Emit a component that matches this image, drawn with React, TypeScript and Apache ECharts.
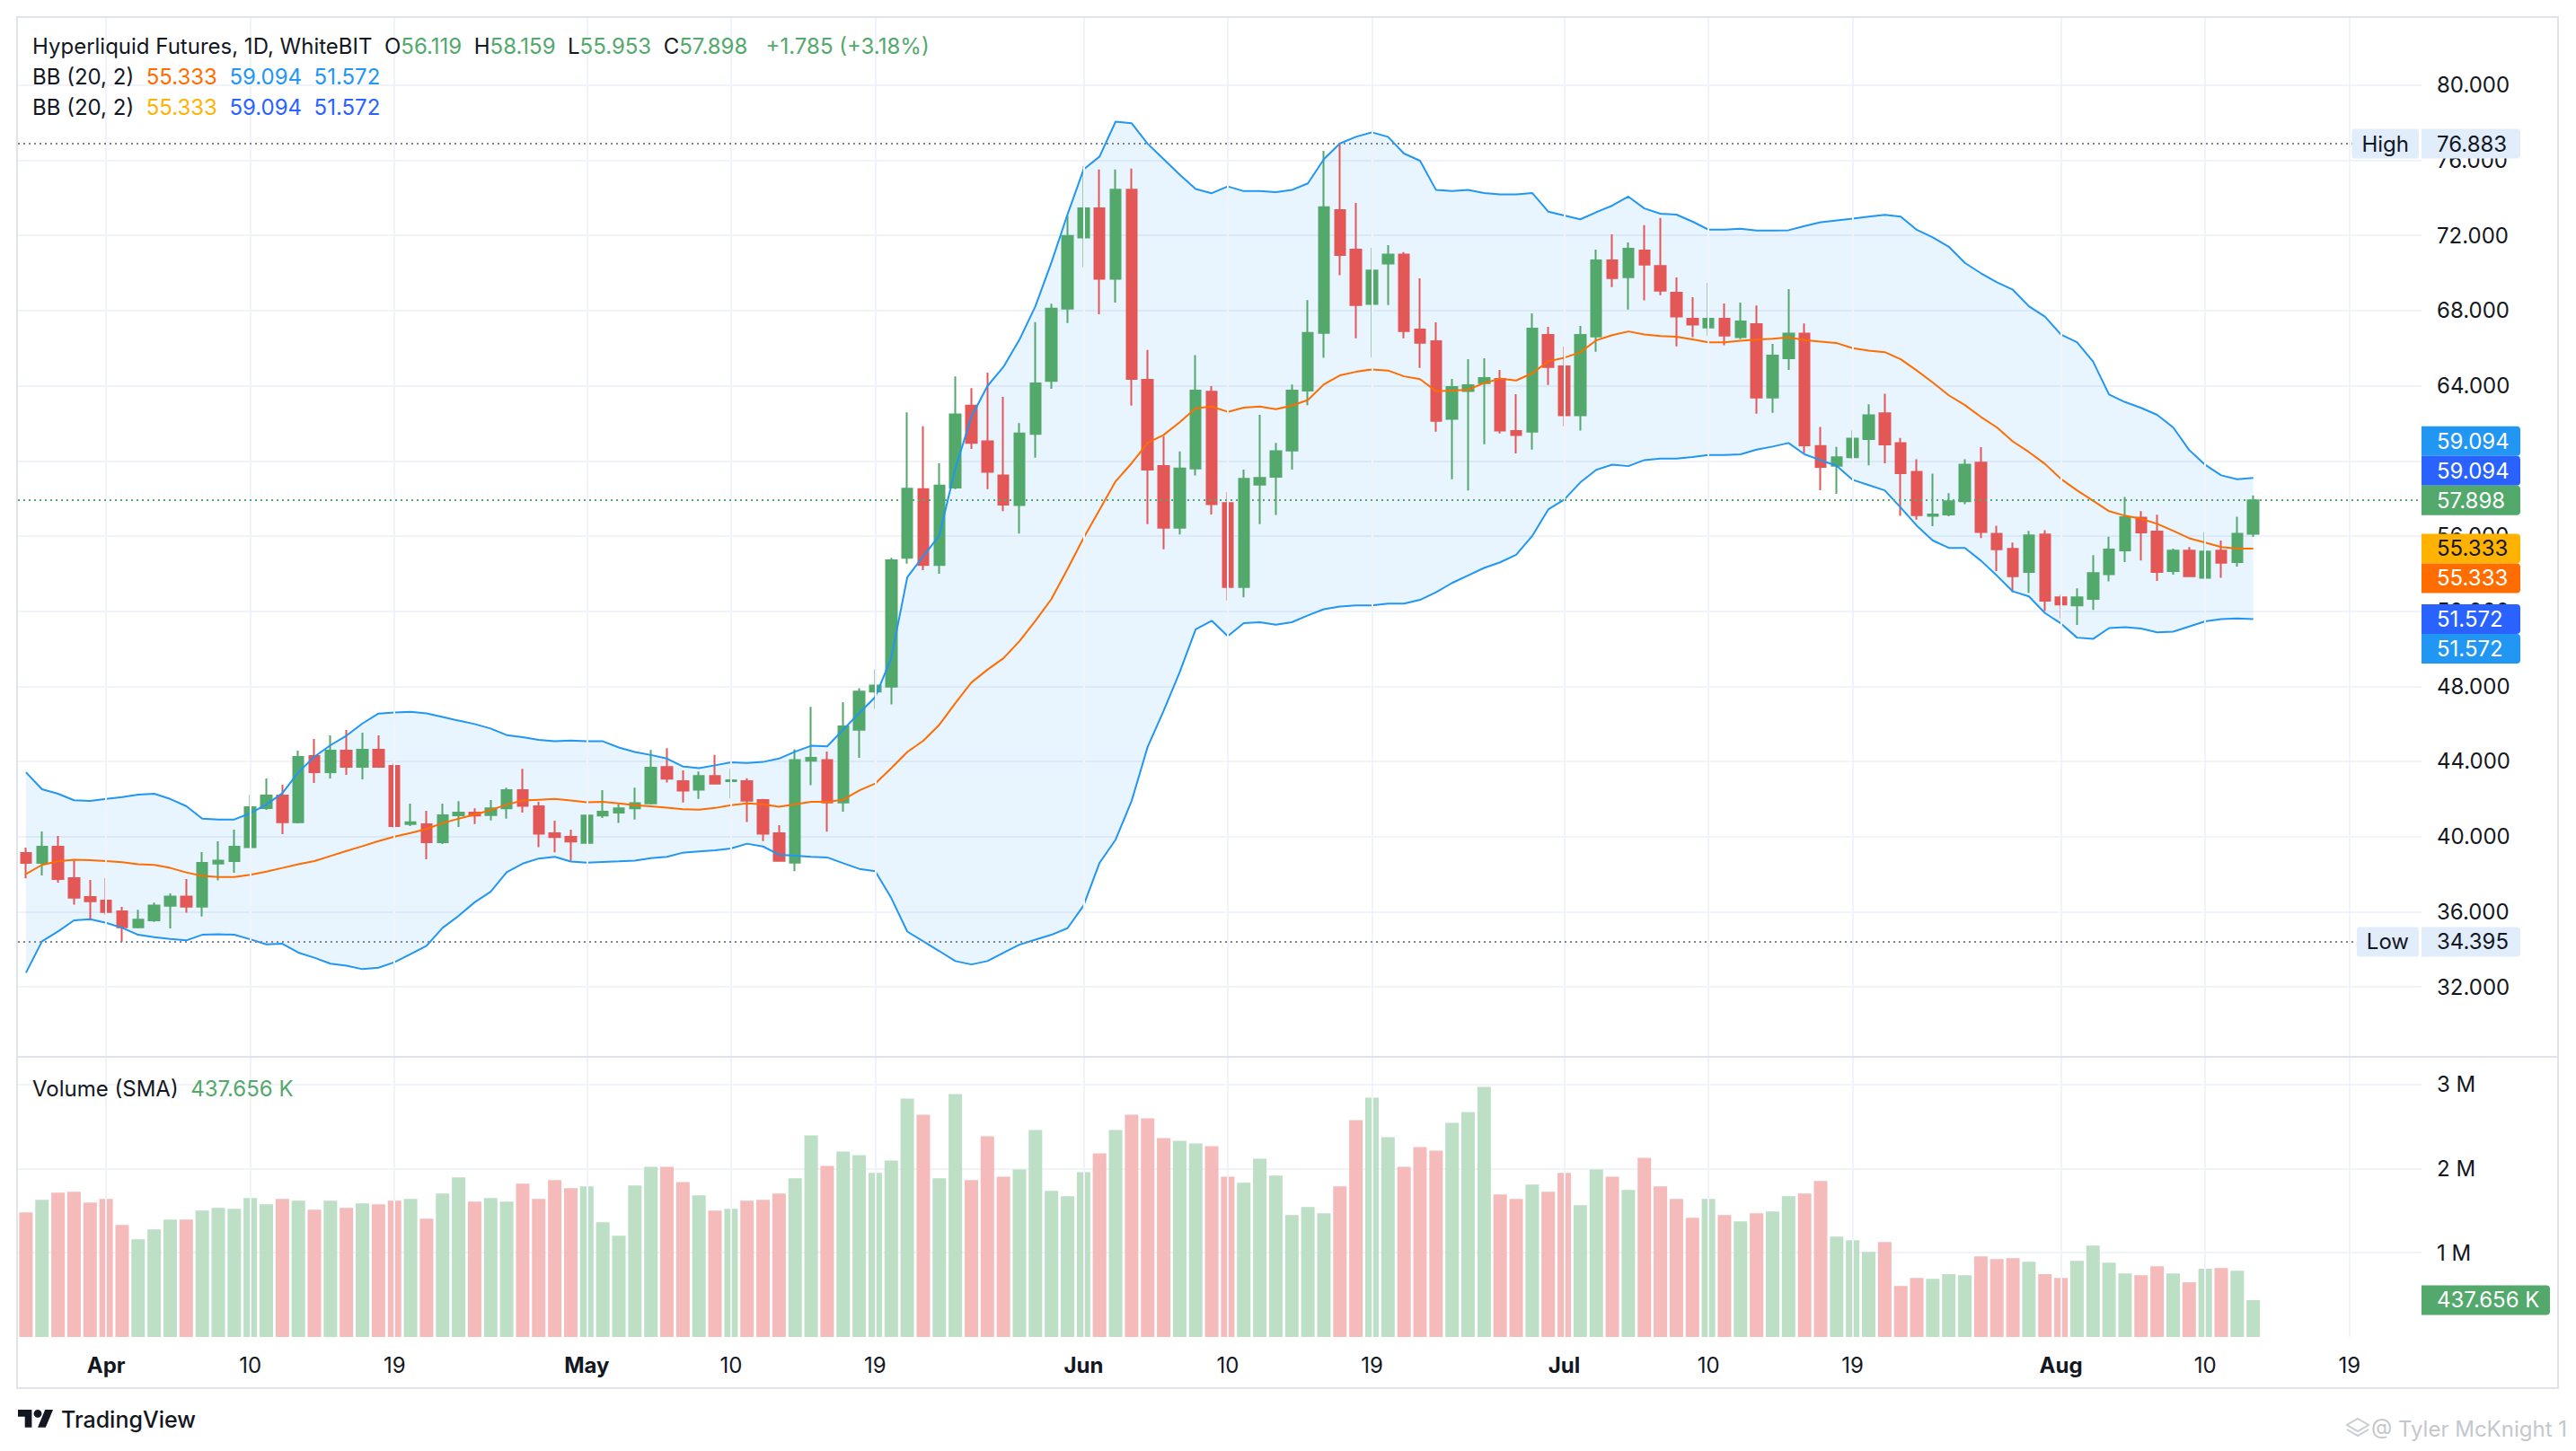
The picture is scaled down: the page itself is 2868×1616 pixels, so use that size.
import React, { useEffect, useRef } from "react";
import * as echarts from "echarts";

const FONT = "Inter, 'Noto Sans', 'DejaVu Sans', sans-serif";
const INK = "#131722";
const GRID_LINE = "#f0f3fa";
const BORDER = "#e0e3eb";
const UP = "#53a86b";
const DOWN = "#e35757";
const UP_VOL = "#bcdfc6";
const DOWN_VOL = "#f5bbbb";
const BB_BAND = "#2196f3";
const BB_BASIS = "#ff6d00";
const BB2_BAND = "#2962ff";
const BB2_BASIS = "#ffb300";
const BADGE_LIGHT = "#e1edfa";

// ---- categories (daily slots, incl. empty right margin) ----
const FIRST_DAY = Date.UTC(2025, 2, 27);
const SLOT_COUNT = 150;
const dayNames: string[] = Array.from({ length: SLOT_COUNT }, (_, i) =>
  new Date(FIRST_DAY + i * 86400000).toISOString().slice(0, 10)
);
const timeTicks = [
  "2025-04-01", "2025-04-10", "2025-04-19",
  "2025-05-01", "2025-05-10", "2025-05-19",
  "2025-06-01", "2025-06-10", "2025-06-19",
  "2025-07-01", "2025-07-10", "2025-07-19",
  "2025-08-01", "2025-08-10", "2025-08-19",
];
const monthNames: Record<string, string> = { "04": "Apr", "05": "May", "06": "Jun", "07": "Jul", "08": "Aug" };

// ---- OHLC ----
const opens = [
  39.12, 38.60, 39.46, 37.78, 36.78, 36.59, 36.02, 35.17, 35.54, 36.32,
  36.81, 36.27, 38.56, 38.69, 39.43, 41.51, 42.18, 40.76, 44.29, 43.42,
  44.57, 43.71, 44.62, 43.76, 40.67, 40.65, 39.70, 41.13, 41.27, 41.14,
  41.50, 42.47, 41.61, 40.17, 39.98, 39.66, 41.12, 41.27, 41.50, 41.76,
  43.70, 42.95, 42.49, 43.22, 42.95, 42.95, 41.94, 40.17, 38.61, 44.04,
  44.07, 41.81, 45.69, 47.72, 47.98, 54.84, 58.50, 54.46, 58.58, 62.94,
  61.04, 59.23, 57.65, 61.43, 64.25, 68.10, 71.89, 73.45, 69.69, 74.44,
  64.31, 59.73, 56.44, 59.59, 63.68, 57.75, 53.28, 58.74, 59.15, 60.55,
  63.74, 66.81, 73.35, 71.25, 68.35, 70.51, 70.98, 66.99, 66.37, 62.23,
  63.72, 64.14, 64.36, 61.59, 61.56, 66.70, 65.03, 62.43, 66.62, 70.67,
  69.78, 71.20, 70.38, 68.95, 67.56, 67.10, 67.56, 66.58, 67.28, 63.37,
  65.46, 66.78, 60.79, 59.74, 60.19, 61.16, 62.53, 60.95, 59.42, 57.07,
  57.15, 57.85, 59.90, 56.12, 55.32, 54.08, 56.08, 52.73, 52.30, 52.65,
  53.97, 55.23, 56.98, 56.24, 54.13, 55.22, 53.77, 55.22, 54.61, 56.119,
];
const highs = [
  39.41, 40.27, 40.03, 38.77, 37.69, 37.78, 36.25, 36.10, 36.48, 36.97,
  37.74, 39.17, 39.74, 40.37, 42.23, 43.09, 42.76, 44.57, 45.19, 45.38,
  45.67, 45.53, 45.38, 43.90, 41.75, 41.37, 41.75, 41.89, 41.50, 41.94,
  42.60, 43.61, 41.85, 40.84, 40.37, 41.15, 42.47, 41.72, 42.60, 44.61,
  44.70, 43.52, 43.46, 44.34, 43.61, 43.10, 42.00, 40.61, 44.65, 46.90,
  44.52, 47.16, 47.90, 48.91, 54.84, 62.58, 61.84, 59.87, 64.50, 63.87,
  64.70, 63.41, 62.01, 67.39, 68.37, 73.05, 75.70, 75.51, 75.51, 75.56,
  65.90, 61.32, 60.50, 65.63, 63.98, 58.33, 59.53, 62.45, 60.96, 64.07,
  68.56, 76.50, 76.883, 73.73, 71.34, 71.48, 71.12, 69.72, 67.37, 64.36,
  65.41, 65.46, 64.84, 63.55, 67.85, 67.13, 66.08, 67.18, 71.25, 72.06,
  71.63, 72.55, 72.93, 69.76, 68.71, 69.48, 68.38, 68.43, 68.27, 66.23,
  69.14, 67.31, 61.81, 60.74, 61.62, 63.01, 63.58, 61.22, 60.09, 59.32,
  58.28, 60.09, 60.73, 56.55, 55.65, 56.27, 56.31, 52.89, 53.21, 54.98,
  55.96, 58.08, 57.32, 57.13, 55.33, 55.41, 56.20, 55.76, 57.03, 58.159,
];
const lows = [
  37.77, 37.93, 37.55, 36.37, 35.62, 35.84, 34.395, 35.11, 35.46, 35.11,
  35.94, 35.74, 37.66, 38.07, 39.43, 41.42, 40.13, 40.70, 42.85, 43.09,
  43.28, 43.04, 43.65, 40.46, 40.56, 38.79, 39.60, 40.51, 40.66, 40.86,
  40.95, 41.27, 39.44, 39.16, 38.70, 39.60, 40.99, 40.72, 40.90, 41.70,
  42.88, 41.81, 42.00, 42.77, 42.04, 40.77, 39.76, 38.67, 38.16, 42.73,
  40.26, 41.32, 44.19, 46.79, 47.03, 54.53, 54.18, 53.99, 58.50, 60.63,
  58.50, 57.32, 56.13, 60.17, 63.84, 67.34, 70.30, 67.80, 68.43, 62.94,
  56.63, 55.29, 56.08, 59.23, 57.15, 52.57, 52.73, 56.63, 57.12, 59.53,
  62.97, 65.49, 69.88, 66.53, 65.52, 68.30, 66.53, 64.95, 61.56, 59.02,
  58.42, 60.89, 61.46, 60.40, 60.60, 64.04, 61.84, 61.61, 65.81, 69.25,
  68.06, 68.54, 68.82, 66.10, 66.58, 66.67, 66.15, 66.48, 62.51, 62.56,
  64.84, 60.41, 58.43, 58.24, 60.10, 59.76, 59.87, 57.07, 56.87, 56.52,
  57.05, 57.70, 55.89, 54.13, 53.01, 52.98, 52.01, 51.61, 51.26, 52.06,
  53.58, 54.61, 54.69, 53.61, 53.94, 53.81, 53.77, 53.77, 54.37, 55.953,
];
const closes = [
  38.60, 39.46, 37.74, 36.75, 36.56, 35.98, 35.17, 35.57, 36.33, 36.81,
  36.27, 38.60, 38.72, 39.46, 41.56, 42.18, 40.76, 44.24, 43.42, 44.57,
  43.71, 44.62, 43.71, 40.56, 40.76, 39.70, 41.13, 41.27, 41.12, 41.50,
  42.47, 41.63, 40.15, 39.97, 39.73, 41.12, 41.32, 41.50, 41.78, 43.66,
  43.08, 42.44, 43.22, 42.82, 42.99, 41.91, 40.15, 38.70, 44.07, 44.19,
  41.81, 45.86, 47.72, 48.04, 54.71, 58.52, 54.46, 58.69, 62.47, 60.96,
  59.42, 57.67, 61.46, 64.12, 68.10, 71.98, 73.45, 69.69, 74.44, 64.36,
  59.53, 56.44, 59.59, 63.74, 57.70, 53.28, 59.04, 59.09, 60.52, 63.74,
  66.81, 73.51, 70.96, 68.30, 70.13, 70.98, 66.91, 66.29, 62.13, 63.93,
  64.03, 64.41, 61.61, 61.37, 67.04, 65.00, 62.43, 66.70, 70.67, 69.73,
  71.29, 70.45, 69.06, 67.68, 67.25, 67.56, 66.67, 67.42, 63.37, 65.60,
  66.78, 60.82, 59.68, 60.19, 61.19, 62.43, 60.87, 59.34, 57.11, 57.15,
  57.85, 59.80, 56.21, 55.29, 53.86, 56.03, 52.55, 52.35, 52.73, 54.02,
  55.28, 57.00, 56.19, 54.08, 55.22, 53.86, 55.17, 54.58, 56.113, 57.898,
];

// ---- Volume (millions) ----
const volumesM = [
  1.479, 1.628, 1.713, 1.723, 1.596, 1.638, 1.330, 1.160, 1.277, 1.394,
  1.394, 1.500, 1.532, 1.521, 1.649, 1.574, 1.638, 1.617, 1.511, 1.617,
  1.532, 1.585, 1.574, 1.617, 1.638, 1.404, 1.702, 1.894, 1.606, 1.649,
  1.606, 1.819, 1.638, 1.862, 1.766, 1.787, 1.362, 1.202, 1.798, 2.021,
  2.021, 1.840, 1.681, 1.500, 1.521, 1.617, 1.628, 1.702, 1.883, 2.394,
  2.032, 2.202, 2.160, 1.947, 2.096, 2.830, 2.638, 1.883, 2.883, 1.862,
  2.383, 1.904, 1.989, 2.457, 1.734, 1.670, 1.957, 2.181, 2.457, 2.638,
  2.596, 2.362, 2.330, 2.298, 2.266, 1.904, 1.830, 2.117, 1.915, 1.447,
  1.543, 1.468, 1.787, 2.574, 2.840, 2.372, 2.021, 2.255, 2.213, 2.543,
  2.670, 2.968, 1.691, 1.638, 1.809, 1.723, 1.947, 1.564, 1.989, 1.904,
  1.745, 2.128, 1.787, 1.638, 1.415, 1.638, 1.447, 1.372, 1.468, 1.489,
  1.670, 1.702, 1.851, 1.191, 1.149, 1.011, 1.128, 0.606, 0.702, 0.691,
  0.745, 0.734, 0.957, 0.926, 0.936, 0.894, 0.745, 0.702, 0.904, 1.085,
  0.883, 0.755, 0.734, 0.840, 0.755, 0.649, 0.809, 0.819, 0.787, 0.437656,
];

// ---- Bollinger Bands (20, 2) ----
const bbUpper = [
  43.42, 42.52, 42.28, 41.93, 41.90, 42.00, 42.10, 42.23, 42.28, 42.00,
  41.62, 40.95, 40.91, 40.91, 41.24, 41.70, 42.31, 43.42, 44.25, 44.86,
  45.37, 46.02, 46.55, 46.60, 46.64, 46.56, 46.37, 46.17, 45.99, 45.75,
  45.40, 45.29, 45.15, 45.07, 45.11, 45.07, 45.07, 44.74, 44.50, 44.34,
  44.15, 43.73, 43.64, 43.79, 43.95, 43.92, 43.97, 44.15, 44.52, 44.83,
  44.80, 45.69, 46.57, 47.43, 49.50, 53.80, 54.93, 56.03, 59.59, 62.34,
  63.98, 65.00, 66.45, 68.24, 70.57, 73.12, 75.51, 76.20, 78.06, 77.98,
  76.88, 76.06, 75.24, 74.47, 74.25, 74.61, 74.36, 74.36, 74.31, 74.42,
  74.77, 76.06, 76.90, 77.25, 77.49, 77.25, 76.36, 75.98, 74.42, 74.37,
  74.43, 74.26, 74.19, 74.19, 74.26, 73.27, 73.06, 72.86, 73.24, 73.59,
  74.07, 73.44, 73.16, 73.11, 72.74, 72.31, 72.31, 72.36, 72.26, 72.26,
  72.28, 72.50, 72.70, 72.80, 72.90, 73.00, 73.10, 73.00, 72.30, 71.90,
  71.40, 70.54, 69.99, 69.51, 69.11, 68.23, 67.68, 66.72, 66.32, 65.29,
  63.53, 63.13, 62.82, 62.45, 61.78, 60.58, 59.79, 59.23, 59.02, 59.094,
];
const bbMid = [
  38.01, 38.49, 38.68, 38.76, 38.74, 38.69, 38.63, 38.53, 38.49, 38.33,
  38.09, 37.90, 37.85, 37.85, 37.96, 38.13, 38.33, 38.53, 38.69, 38.96,
  39.23, 39.49, 39.76, 40.00, 40.19, 40.40, 40.72, 40.95, 41.17, 41.41,
  41.70, 41.92, 41.96, 42.00, 41.92, 41.83, 41.85, 41.76, 41.67, 41.61,
  41.54, 41.45, 41.43, 41.52, 41.67, 41.76, 41.72, 41.58, 41.72, 41.85,
  41.85, 41.96, 42.45, 42.82, 43.64, 44.50, 45.10, 45.95, 47.10, 48.20,
  48.88, 49.49, 50.40, 51.49, 52.65, 54.24, 55.89, 57.40, 58.91, 59.87,
  60.96, 61.38, 62.06, 62.80, 62.89, 62.61, 62.83, 62.89, 62.75, 62.94,
  63.24, 64.07, 64.55, 64.74, 64.87, 64.81, 64.50, 64.35, 63.71, 63.74,
  63.79, 64.14, 64.38, 64.28, 64.66, 65.30, 65.49, 65.78, 66.42, 66.69,
  66.89, 66.73, 66.64, 66.61, 66.47, 66.31, 66.31, 66.39, 66.45, 66.50,
  66.57, 66.43, 66.35, 66.27, 66.00, 65.87, 65.79, 65.41, 64.81, 64.17,
  63.49, 62.97, 62.34, 61.78, 61.03, 60.47, 59.84, 59.04, 58.43, 57.88,
  57.32, 57.08, 56.92, 56.65, 56.28, 55.88, 55.65, 55.41, 55.33, 55.333,
];
const bbLower = [
  32.75, 34.42, 34.95, 35.54, 35.60, 35.41, 35.14, 34.77, 34.64, 34.55,
  34.47, 34.77, 34.80, 34.77, 34.53, 34.26, 34.29, 33.82, 33.55, 33.23,
  33.12, 32.94, 33.02, 33.31, 33.74, 34.18, 35.14, 35.78, 36.50, 37.06,
  38.10, 38.56, 38.83, 38.92, 38.67, 38.61, 38.65, 38.68, 38.72, 38.85,
  38.92, 39.14, 39.21, 39.27, 39.36, 39.62, 39.47, 39.03, 38.98, 38.92,
  38.89, 38.58, 38.28, 38.16, 36.73, 34.94, 34.42, 33.90, 33.37, 33.19,
  33.37, 33.81, 34.24, 34.51, 34.77, 35.12, 36.32, 38.60, 39.83, 41.89,
  44.77, 46.69, 48.75, 51.03, 51.49, 50.67, 51.36, 51.41, 51.28, 51.41,
  51.77, 52.10, 52.24, 52.30, 52.30, 52.40, 52.40, 52.60, 53.00, 53.50,
  53.90, 54.30, 54.60, 55.00, 56.00, 57.41, 57.94, 58.85, 59.52, 59.80,
  59.72, 60.04, 60.12, 60.12, 60.20, 60.31, 60.31, 60.35, 60.60, 60.76,
  60.95, 60.35, 60.03, 59.74, 58.99, 58.71, 58.43, 57.51, 56.55, 55.76,
  55.37, 55.36, 54.69, 53.89, 53.05, 52.78, 51.90, 51.34, 50.59, 50.52,
  51.10, 51.14, 51.07, 50.87, 50.91, 51.18, 51.46, 51.58, 51.61, 51.572,
];

// ---- layout ----
const PLOT_LEFT = 20;
const PLOT_W = 2676;
const PRICE_MIN = 28;
const PRICE_MAX = 84;
const PRICE_STEP = 4;
const PRICE_TOP = 11.2;
const PRICE_H = 1171.5;
const PANE_TOP_PRICE = 83.58;
const PANE_BOTTOM_PRICE = 28.32;
const VOL_TOP = 1177;
const VOL_H = 312;
const VOL_MAX = 3.326;
const AXIS_X = 2696;
const BH = 33;
const LABEL_HALF = 11;

const f3 = (v: number) => v.toFixed(3);

function buildOption(hiddenTicks: Set<number>): any {
  const candleData = opens.map((o, i) => [o, closes[i], lows[i], highs[i]]);
  const volData = volumesM.map((v, i) => ({
    value: v,
    itemStyle: { color: closes[i] >= opens[i] ? UP_VOL : DOWN_VOL },
  }));
  const bandWidth = bbUpper.map((u, i) => +(u - bbLower[i]).toFixed(3));
  const tickIdx = timeTicks.map((d) => dayNames.indexOf(d));
  const tickSet = new Set(timeTicks);
  const last = closes.length - 1;

  const gridLine = { color: GRID_LINE, width: 2, type: "solid" };
  const dotted = (color: string) => ({ color, width: 2, type: [2, 4] });

  return {
    animation: false,
    backgroundColor: "#ffffff",
    textStyle: { fontFamily: FONT },
    grid: [
      { left: PLOT_LEFT, top: PRICE_TOP, width: PLOT_W, height: PRICE_H, outerBoundsMode: "none" },
      { left: PLOT_LEFT, top: VOL_TOP, width: PLOT_W, height: VOL_H, outerBoundsMode: "none" },
    ],
    xAxis: [
      {
        type: "category", gridIndex: 0, data: dayNames, boundaryGap: true,
        axisLine: { show: false }, axisTick: { show: false }, axisLabel: { show: false },
        splitLine: { show: false },
      },
      {
        type: "category", gridIndex: 1, data: dayNames, boundaryGap: true,
        axisLine: { show: false }, axisTick: { show: false }, splitLine: { show: false },
        axisLabel: {
          interval: (_i: number, v: string) => tickSet.has(v),
          hideOverlap: false,
          margin: 19,
          fontSize: 24,
          fontFamily: FONT,
          color: INK,
          formatter: (v: string) => {
            const day = Number(v.slice(8, 10));
            return day === 1 ? `{m|${monthNames[v.slice(5, 7)]}}` : String(day);
          },
          rich: { m: { fontWeight: "bold", fontSize: 24, fontFamily: FONT, color: INK } },
        },
      },
    ],
    yAxis: [
      {
        type: "value", gridIndex: 0, position: "right",
        min: PRICE_MIN, max: PRICE_MAX, interval: PRICE_STEP,
        axisLine: { show: false }, axisTick: { show: false },
        axisLabel: {
          showMinLabel: false, showMaxLabel: false, margin: 17,
          fontSize: 24, fontFamily: FONT, color: INK,
          formatter: (v: number) => (hiddenTicks.has(Math.round(v)) ? "" : f3(v)),
        },
        splitLine: { show: true, showMinLine: false, showMaxLine: false, lineStyle: gridLine },
      },
      {
        type: "value", gridIndex: 1, position: "right",
        min: 0, max: VOL_MAX, interval: 1,
        axisLine: { show: false }, axisTick: { show: false },
        axisLabel: {
          showMinLabel: false, showMaxLabel: false, margin: 17,
          fontSize: 24, fontFamily: FONT, color: INK,
          formatter: (v: number) => `${v} M`,
        },
        splitLine: { show: true, showMinLine: false, showMaxLine: false, lineStyle: gridLine },
      },
    ],
    series: [
      {
        name: "timeGridPrice", type: "line", xAxisIndex: 0, yAxisIndex: 0, z: 1,
        data: closes, showSymbol: false, silent: true, lineStyle: { opacity: 0 },
        markLine: {
          silent: true, symbol: ["none", "none"], label: { show: false }, animation: false,
          lineStyle: gridLine,
          data: tickIdx.map((x) => [{ coord: [x, PANE_TOP_PRICE] }, { coord: [x, PANE_BOTTOM_PRICE] }]),
        },
      },
      {
        name: "bbBase", type: "line", xAxisIndex: 0, yAxisIndex: 0, stack: "bb", z: 2,
        data: bbLower, showSymbol: false, silent: true, lineStyle: { opacity: 0 },
      },
      {
        name: "bbFill", type: "line", xAxisIndex: 0, yAxisIndex: 0, stack: "bb", z: 2,
        data: bandWidth, showSymbol: false, silent: true, lineStyle: { opacity: 0 },
        areaStyle: { color: "rgba(33,150,243,0.1)", opacity: 1 },
      },
      {
        name: "price", type: "candlestick", xAxisIndex: 0, yAxisIndex: 0, z: 3,
        data: candleData, barWidth: 12, silent: true,
        itemStyle: { color: UP, color0: DOWN, borderColor: UP, borderColor0: DOWN, borderWidth: 2 },
        markLine: {
          silent: true, symbol: ["none", "none"], label: { show: false }, animation: false,
          data: [
            { yAxis: Math.max(...highs), lineStyle: dotted("#80848e") },
            { yAxis: Math.min(...lows), lineStyle: dotted("#80848e") },
            { yAxis: closes[last], lineStyle: dotted(UP) },
          ],
        },
      },
      {
        name: "bbBasis", type: "line", xAxisIndex: 0, yAxisIndex: 0, z: 4,
        data: bbMid, showSymbol: false, silent: true, lineStyle: { color: BB_BASIS, width: 2 },
      },
      {
        name: "bbUpper", type: "line", xAxisIndex: 0, yAxisIndex: 0, z: 4,
        data: bbUpper, showSymbol: false, silent: true, lineStyle: { color: BB_BAND, width: 2 },
      },
      {
        name: "bbLower", type: "line", xAxisIndex: 0, yAxisIndex: 0, z: 4,
        data: bbLower, showSymbol: false, silent: true, lineStyle: { color: BB_BAND, width: 2 },
      },
      {
        name: "timeGridVol", type: "line", xAxisIndex: 1, yAxisIndex: 1, z: 1,
        data: volumesM, showSymbol: false, silent: true, lineStyle: { opacity: 0 },
        markLine: {
          silent: true, symbol: ["none", "none"], label: { show: false }, animation: false,
          lineStyle: gridLine,
          data: tickIdx.map((x) => ({ xAxis: x })),
        },
      },
      {
        name: "volume", type: "bar", xAxisIndex: 1, yAxisIndex: 1, z: 2,
        data: volData, barWidth: 15, silent: true,
      },
    ],
  };
}

const TV_LOGO_PATH = "M14 22H7V11H0V4h14v18zM28 22h-8l7.5-18h8L28 22z";
echarts.graphic.registerShape("tvlogo", echarts.graphic.extendPath(TV_LOGO_PATH, {}) as any);

type Badge = { yc: number; text: string; bg: string; fg: string; w: number };

function layoutBadges(chart: any): Badge[] {
  const y0 = (v: number) => chart.convertToPixel({ yAxisIndex: 0 }, v) as number;
  const last = closes.length - 1;
  const c = closes[last];
  const up = bbUpper[last], mid = bbMid[last], lo = bbLower[last];
  const yClose = y0(c);
  const upDark = Math.min(y0(up), yClose - BH);
  const upLight = upDark - BH;
  const midYellow = Math.max(y0(mid), yClose + BH);
  const midOrange = midYellow + BH;
  const loDark = Math.max(y0(lo), midOrange + BH);
  const loLight = loDark + BH;
  return [
    { yc: upLight, text: f3(up), bg: BB_BAND, fg: "#ffffff", w: 110 },
    { yc: upDark, text: f3(up), bg: BB2_BAND, fg: "#ffffff", w: 110 },
    { yc: yClose, text: f3(c), bg: UP, fg: "#ffffff", w: 110 },
    { yc: midYellow, text: f3(mid), bg: BB2_BASIS, fg: INK, w: 110 },
    { yc: midOrange, text: f3(mid), bg: BB_BASIS, fg: "#ffffff", w: 110 },
    { yc: loDark, text: f3(lo), bg: BB2_BAND, fg: "#ffffff", w: 110 },
    { yc: loLight, text: f3(lo), bg: BB_BAND, fg: "#ffffff", w: 110 },
  ];
}

function fullyCoveredTicks(chart: any, badges: Badge[]): Set<number> {
  const y0 = (v: number) => chart.convertToPixel({ yAxisIndex: 0 }, v) as number;
  const spans = badges.map((b) => [b.yc - BH / 2, b.yc + BH / 2]).sort((a, b) => a[0] - b[0]);
  const merged: number[][] = [];
  spans.forEach((s) => {
    const m = merged[merged.length - 1];
    if (m && s[0] <= m[1] + 0.5) m[1] = Math.max(m[1], s[1]);
    else merged.push([s[0], s[1]]);
  });
  const hidden = new Set<number>();
  for (let v = PRICE_MIN; v <= PRICE_MAX; v += PRICE_STEP) {
    const y = y0(v);
    if (merged.some((m) => y - LABEL_HALF >= m[0] && y + LABEL_HALF <= m[1])) hidden.add(v);
  }
  return hidden;
}

function buildGraphics(chart: any, badges: Badge[]): any[] {
  const y0 = (v: number) => chart.convertToPixel({ yAxisIndex: 0 }, v) as number;
  const y1 = (v: number) => chart.convertToPixel({ yAxisIndex: 1 }, v) as number;
  const last = closes.length - 1;
  const o = opens[last], h = highs[last], l = lows[last], c = closes[last];
  const chg = c - closes[last - 1];
  const pct = (chg / closes[last - 1]) * 100;
  const up = bbUpper[last], mid = bbMid[last], lo = bbLower[last];

  const txt = (x: number, y: number, text: string, extra: any = {}) => ({
    type: "text", x, y, z: 60,
    style: { text, fill: INK, fontSize: 24, fontFamily: FONT, align: "left", verticalAlign: "middle", ...extra },
  });
  const badge = (yc: number, text: string, bg: string, fg: string, w = 110) => [
    { type: "rect", z: 55, shape: { x: AXIS_X, y: yc - BH / 2, width: w, height: BH, r: [0, 4, 4, 0] }, style: { fill: bg } },
    txt(AXIS_X + 17, yc, text, { fill: fg }),
  ];
  const tagLeft = (yc: number, text: string) => ({
    type: "text", x: AXIS_X - 3, y: yc, z: 56,
    style: {
      text, fill: INK, fontSize: 24, fontFamily: FONT, align: "right", verticalAlign: "middle",
      backgroundColor: BADGE_LIGHT, padding: [4, 11, 4, 11], lineHeight: 25, borderRadius: 3,
    },
  });

  const hi = Math.max(...highs), lw = Math.min(...lows);
  const yHi = y0(hi), yLo = y0(lw);
  const vLast = volumesM[last];

  const G = UP;
  const rich = {
    t: { fill: INK, fontSize: 24, fontFamily: FONT },
    g: { fill: G, fontSize: 24, fontFamily: FONT },
    o1: { fill: BB_BASIS, fontSize: 24, fontFamily: FONT },
    b1: { fill: BB_BAND, fontSize: 24, fontFamily: FONT },
    o2: { fill: BB2_BASIS, fontSize: 24, fontFamily: FONT },
    b2: { fill: BB2_BAND, fontSize: 24, fontFamily: FONT },
  };
  const sign = chg >= 0 ? "+" : "";

  return [
    // frame
    { type: "rect", z: 40, shape: { x: 19, y: 19, width: 2829, height: 1527 }, style: { fill: "none", stroke: BORDER, lineWidth: 2 } },
    { type: "line", z: 40, shape: { x1: 19, y1: VOL_TOP, x2: 2848, y2: VOL_TOP }, style: { stroke: BORDER, lineWidth: 2 } },
    // legends
    txt(36, 51, `{t|Hyperliquid Futures, 1D, WhiteBIT }{t| O}{g|${f3(o)}}{t|  H}{g|${f3(h)}}{t|  L}{g|${f3(l)}}{t|  C}{g|${f3(c)}}{g|   ${sign}${f3(chg)} (${sign}${pct.toFixed(2)}%)}`, { rich }),
    txt(36, 85, `{t|BB (20, 2)  }{o1|${f3(mid)}}{b1|  ${f3(up)}}{b1|  ${f3(lo)}}`, { rich }),
    txt(36, 119, `{t|BB (20, 2)  }{o2|${f3(mid)}}{b2|  ${f3(up)}}{b2|  ${f3(lo)}}`, { rich }),
    txt(36, 1212, `{t|Volume (SMA)  }{g|${f3(vLast * 1000)} K}`, { rich }),
    // high / low tags
    tagLeft(yHi, "High"),
    ...badge(yHi, f3(hi), BADGE_LIGHT, INK),
    tagLeft(yLo, "Low"),
    ...badge(yLo, f3(lw), BADGE_LIGHT, INK),
    // indicator / price badges
    ...badges.flatMap((b) => badge(b.yc, b.text, b.bg, b.fg, b.w)),
    ...badge(y1(vLast), `${f3(vLast * 1000)} K`, G, "#ffffff", 143),
    // TradingView logo
    { type: "tvlogo", z: 60, x: 20, y: 1565.6, scaleX: 1.1, scaleY: 1.1, style: { fill: INK } },
    { type: "circle", z: 60, shape: { cx: 42, cy: 1574.4, r: 4.4 }, style: { fill: INK } },
    txt(68, 1581, "TradingView", { fontSize: 25, fontWeight: 500 }),
    // watermark
    { type: "polygon", z: 60, shape: { points: [[2625, 1580], [2637, 1587], [2625, 1594], [2613, 1587]] }, style: { fill: "none", stroke: "#c9ccd3", lineWidth: 2 } },
    { type: "polyline", z: 60, shape: { points: [[2613, 1592], [2625, 1599], [2637, 1592]] }, style: { fill: "none", stroke: "#c9ccd3", lineWidth: 2 } },
    txt(2858, 1591, "@ Tyler McKnight 1", { fill: "#c4c7ce", fontSize: 24, align: "right" }),
  ];
}

export default function App() {
  const ref = useRef<HTMLDivElement>(null);
  useEffect(() => {
    document.body.style.margin = "0";
    const chart = echarts.init(ref.current as HTMLDivElement, undefined, { renderer: "svg" });
    chart.setOption(buildOption(new Set<number>()));
    const badges = layoutBadges(chart);
    const hidden = fullyCoveredTicks(chart, badges);
    chart.setOption(buildOption(hidden));
    chart.setOption({ graphic: buildGraphics(chart, badges) });
    return () => chart.dispose();
  }, []);
  return <div ref={ref} style={{ width: 2868, height: 1616, background: "#ffffff" }} />;
}
